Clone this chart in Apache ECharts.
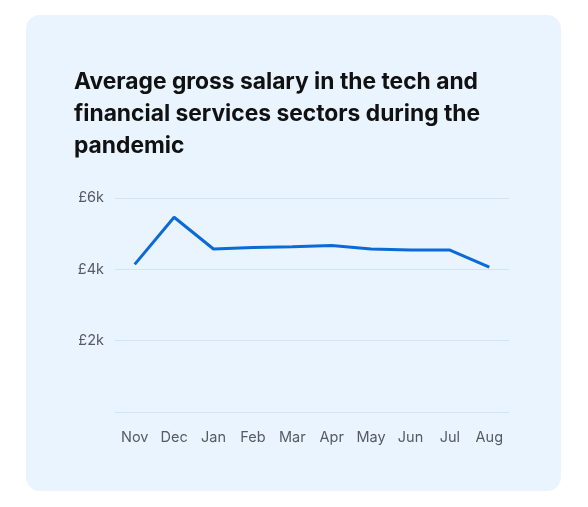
<!DOCTYPE html>
<html>
<head>
<meta charset="utf-8">
<script src="https://cdn.jsdelivr.net/npm/echarts@6/dist/echarts.min.js"></script>
<style>
html,body{margin:0;padding:0;background:#ffffff;}
#chart{width:588px;height:507px;}
</style>
</head>
<body>
<div id="chart"></div>
<script>
var titleText = 'Average gross salary in the tech and\nfinancial services sectors during the\npandemic';
var months = ['Nov','Dec','Jan','Feb','Mar','Apr','May','Jun','Jul','Aug'];
var salary = [4140, 5460, 4570, 4610, 4630, 4670, 4570, 4540, 4540, 4060];
var yTicks = [0, 2000, 4000, 6000];

var chart = echarts.init(document.getElementById('chart'));
chart.setOption({
  animation: false,
  backgroundColor: '#ffffff',
  graphic: [{
    type: 'rect',
    shape: {x: 26, y: 15, width: 535, height: 476, r: 14},
    style: {fill: '#e9f4fe'},
    z: -10
  }],
  title: {
    text: titleText,
    left: 74,
    top: 66,
    padding: 0,
    textStyle: {
      fontFamily: 'Inter',
      fontWeight: 'bold',
      fontSize: 22.8,
      lineHeight: 32,
      color: '#111111'
    }
  },
  grid: {left: 115, right: 79, top: 198, bottom: 95},
  xAxis: {
    type: 'category',
    data: months,
    boundaryGap: true,
    axisLine: {show: false},
    axisTick: {show: false},
    axisLabel: {color: '#555b66', fontSize: 14.5, fontFamily: 'Inter', margin: 18}
  },
  yAxis: {
    type: 'value',
    min: yTicks[0],
    max: yTicks[yTicks.length - 1],
    interval: 2000,
    axisLine: {show: false},
    axisTick: {show: false},
    splitLine: {lineStyle: {color: '#d2e4f6', width: 1}},
    axisLabel: {
      color: '#555b66', fontSize: 14.5, fontFamily: 'Inter', margin: 11,
      formatter: function (v) { return v === 0 ? '' : '£' + (v / 1000) + 'k'; }
    }
  },
  series: [{
    type: 'line',
    data: salary,
    showSymbol: false,
    symbol: 'none',
    lineStyle: {color: '#0b6ad6', width: 3},
    itemStyle: {color: '#0b6ad6'}
  }]
});
</script>
</body>
</html>
